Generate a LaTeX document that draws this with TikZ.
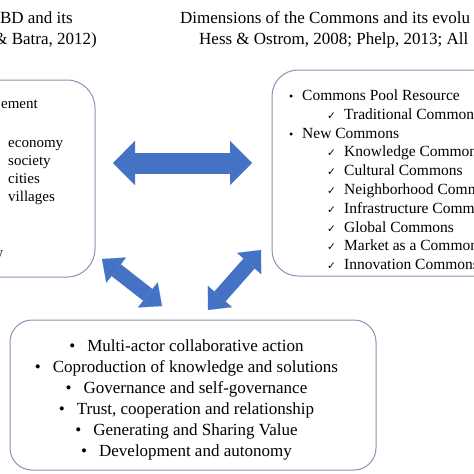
\documentclass[tikz,border=0pt]{standalone}
\usepackage{fontspec}
\setmainfont{Liberation Serif}
\newfontfamily\checkfont{DejaVu Sans}
\usepackage{xcolor}
\usepackage{tikz}
\usetikzlibrary{arrows.meta, positioning}
\definecolor{arrowblue}{RGB}{68,114,196}
\definecolor{boxgray}{RGB}{132,151,176}

\begin{document}
\begin{tikzpicture}[x=1pt, y=-1pt,
  panel/.style={draw=boxgray, line width=1pt, inner sep=0pt},
  heading/.style={font=\fontsize{17}{20}\selectfont, inner sep=0pt},
  leftitem/.style={font=\fontsize{15}{18}\selectfont, inner sep=0pt, anchor=base west},
  rightitem/.style={font=\fontsize{15.5}{18}\selectfont, inner sep=0pt, anchor=base west},
  dotmark/.style={font=\fontsize{12}{14}\selectfont, inner sep=0pt, anchor=base west},
  tickmark/.style={font=\checkfont\fontsize{10.5}{12}\selectfont, inner sep=0pt, anchor=base west},
  actionline/.style={font=\fontsize{17}{20}\selectfont, inner sep=0pt, anchor=base},
  bigarrow/.style={draw=arrowblue, line width=21pt,
    {Triangle[length=22pt, width=44pt, line width=0.1pt]}-{Triangle[length=22pt, width=44pt, line width=0.1pt]}},
  smallarrow/.style={draw=arrowblue, line width=15pt,
    {Triangle[length=18pt, width=32pt, line width=0.1pt]}-{Triangle[length=18pt, width=32pt, line width=0.1pt]}}
]
\useasboundingbox (0,0) rectangle (474,474);
\clip (0,0) rectangle (474,474);

% --- Panels ---
\node[panel, rounded corners=28pt, minimum width=160pt, minimum height=197pt] (devbox) at (15,178.5) {};
\node[panel, rounded corners=26pt, minimum width=270pt, minimum height=206pt] (commonsbox) at (407,173) {};
\node[panel, rounded corners=22pt, minimum width=366pt, minimum height=150pt] (actionbox) at (193,395) {};

% --- Titles ---
\node[heading, anchor=base east] (devtitleA) at (73,23) {BD and its};
\node[heading, anchor=base east] (devtitleB) at (97,44) {\& Batra, 2012)};
\node[heading, anchor=base west] (comtitleA) at (180,23) {Dimensions of the Commons and its evolu};
\node[heading, anchor=base west] (comtitleB) at (199,44) {Hess \& Ostrom, 2008; Phelp, 2013; All};

% --- Left panel ---
\node[leftitem, anchor=base east] (devhead) at (38,108) {ement};
\foreach \t [count=\i] in {economy, society, cities, villages} {
  \node[leftitem] (dev\i) at (8,{128.7+18.3*\i}) {\t};
}
\node[leftitem, anchor=base east] (devtail) at (3.5,257) {w};

% --- Right panel ---
\node[dotmark] (cprdot) at (289,100.5) {\textbullet};
\node[rightitem] (cpr) at (302,100.5) {Commons Pool Resource};
\node[tickmark] (tradtick) at (327,119.3) {✓};
\node[rightitem] (trad) at (344,119.3) {Traditional Commons};
\node[dotmark] (newdot) at (289,138.1) {\textbullet};
\node[rightitem] (newc) at (302,138.1) {New Commons};
\foreach \t [count=\i] in {Knowledge Commons, Cultural Commons, Neighborhood Commons,
    Infrastructure Commons, Global Commons, Market as a Commons, Innovation Commons} {
  \node[tickmark] (tick\i) at (327,{138.1+18.8*\i}) {✓};
  \node[rightitem] (newc\i) at (344,{138.1+18.8*\i}) {\t};
}

% --- Bottom panel ---
\foreach \t [count=\i] in {Multi-actor collaborative action, Coproduction of knowledge and solutions,
    Governance and self-governance, {Trust, cooperation and relationship},
    Generating and Sharing Value, Development and autonomy} {
  \node[actionline] (act\i) at (186.5,{330+21.1*\i}) {\textbullet\hspace{12pt}\t};
}

% --- Block arrows ---
\coordinate (linkL) at (113,163);
\coordinate (linkR) at (252,163);
\coordinate (devlinkA) at (102,259);
\coordinate (devlinkB) at (162,306);
\coordinate (comlinkA) at (208,310);
\coordinate (comlinkB) at (261,250);
\draw[bigarrow] (linkL) -- (linkR);
\draw[smallarrow] (devlinkA) -- (devlinkB);
\draw[smallarrow] (comlinkA) -- (comlinkB);

\end{tikzpicture}
\end{document}
